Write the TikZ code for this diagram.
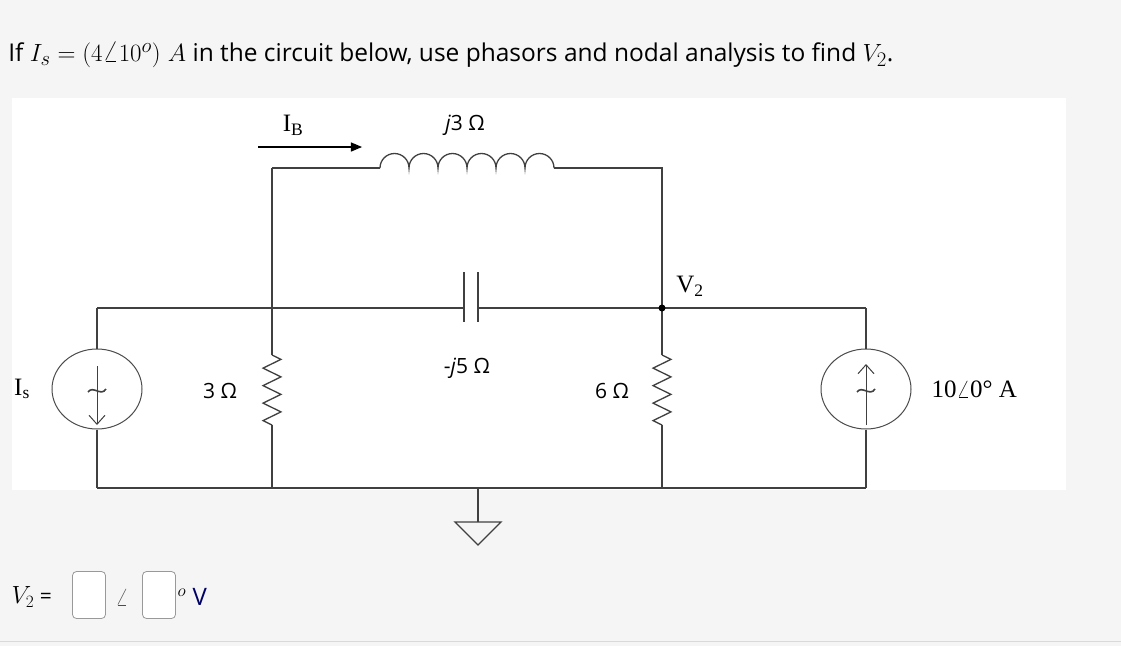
\documentclass[tikz,border=0pt]{standalone}
\usepackage{fontspec}
\setmainfont{Open Sans}
\usepackage{amsmath}
\usetikzlibrary{arrows,arrows.meta,decorations.pathmorphing,shapes.geometric}
\newfontfamily\timesf{Liberation Serif}
\newcommand\mathsz{\fontsize{24}{26}\selectfont}
\newcommand\titlemath{\fontsize{28}{30}\selectfont}
\begin{document}
\begin{tikzpicture}[x=1pt,y=-1pt,thick,
  wire/.style={draw=black!75,line width=1.3pt},
  src node/.style={ellipse,draw=black!70,minimum width=90pt,minimum height=80pt,line width=1pt},
  src arrow/.style={black!75,line width=1pt,-{Straight Barb[length=9pt,width=16pt]}},
  ans box/.style={draw=black!40,rounded corners=4pt,fill=white,minimum width=33pt,minimum height=47pt,line width=0.8pt},
  lbl/.style={font=\fontsize{21}{24}\selectfont},
  tlbl/.style={font=\timesf\fontsize{25}{27}\selectfont}]
  \useasboundingbox (0,0) rectangle (1121,646);
  \fill[black!4] (0,0) rectangle (1121,646);
  \fill[white] (12,98) rectangle (1066,490);
  \draw[black!15] (0,641) -- (1121,641);
  % question
  \node[anchor=west,font=\fontsize{24.5}{28}\selectfont,inner sep=0pt] (q) at (8,55) {If {\titlemath$I_s=(4\angle 10^o)\ A$} in the circuit below, use phasors and nodal analysis to find {\titlemath$V_2$}.};
  % corners
  \coordinate (tl) at (97,308);  \coordinate (bl) at (97,488);
  \coordinate (tr) at (866,308); \coordinate (br) at (866,488);
  \coordinate (r3t) at (272,308); \coordinate (r3b) at (272,488);
  \coordinate (top) at (272,168); \coordinate (n2) at (662,308);
  \coordinate (n2t) at (662,168); \coordinate (r6b) at (662,488);
  \coordinate (gnd) at (478,488);
  % sources
  \node[src node] (is) at (97,389) {};
  \node[src node] (ir) at (866,389) {};
  \draw[wire] (tl) -- (is.north) (is.south) -- (bl);
  \draw[wire] (tr) -- (ir.north) (ir.south) -- (br);
  \draw[src arrow] (97,366) -- (97,425);
  \draw[black!75,line width=1.6pt] (88,392) .. controls (93,385) and (101,397) .. (106,389);
  \draw[src arrow] (866,425) -- (866,364);
  \draw[black!75,line width=1.6pt] (857,392) .. controls (862,385) and (870,397) .. (875,389);
  % wires
  \draw[wire] (tl) -- (458,308) (484,308) -- (tr);
  \draw[wire] (bl) -- (br);
  \draw[wire] (top) -- (272,355);
  \draw[wire,decorate,decoration={zigzag,segment length=17.5pt,amplitude=9pt}] (272,355) -- (272,425);
  \draw[wire] (272,425) -- (r3b);
  \draw[wire] (top) -- (380,168);
  \draw[wire] (380,168) arc (180:360:14.5) arc (180:360:14.5) arc (180:360:14.5) arc (180:360:14.5) arc (180:360:14.5) arc (180:360:14.5);
  \draw[wire] (554,168) -- (n2t) -- (n2) -- (662,355);
  \draw[wire,decorate,decoration={zigzag,segment length=17.5pt,amplitude=9pt}] (662,355) -- (662,425);
  \draw[wire] (662,425) -- (r6b);
  \fill (n2) circle (3.5);
  % capacitor
  \draw[wire] (464,272) -- (464,322) (478,272) -- (478,322);
  \draw[wire] (458,308) -- (464,308) (478,308) -- (484,308);
  % ground
  \draw[wire] (gnd) -- (478,522);
  \draw[wire] (455,522) -- (501,522) -- (478,545) -- cycle;
  % current arrow
  \draw[line width=1.6pt,-triangle 45] (258,147) -- (362,147);
  % labels
  \node[tlbl] (ib) at (293,125) {I\textsubscript{B}};
  \node[lbl] (lj3) at (465,125) {\textit{j}3 Ω};
  \node[lbl] (lj5) at (467,368) {-\textit{j}5 Ω};
  \node[lbl] (l3) at (220,391) {3 Ω};
  \node[lbl] (l6) at (612,391) {6 Ω};
  \node[tlbl] (lv2) at (690,286) {V\textsubscript{2}};
  \node[tlbl] (lis) at (22,389) {I\textsubscript{s}};
  \node[tlbl,anchor=west] (lir) at (928,389) {10$\angle$0° A};
  % answer
  \node[anchor=west,lbl] (v2) at (8,597) {{\mathsz$V_2$} =};
  \node[ans box] (b1) at (89,595) {};
  \node[lbl,text=black!70] (ang) at (122,597) {\mathsz$\angle$};
  \node[ans box] (b2) at (159,595) {};
  \node[lbl,anchor=west] (unit) at (174,597) {\mathsz$^o$ \textcolor{blue!40!black}{V}};
\end{tikzpicture}
\end{document}
